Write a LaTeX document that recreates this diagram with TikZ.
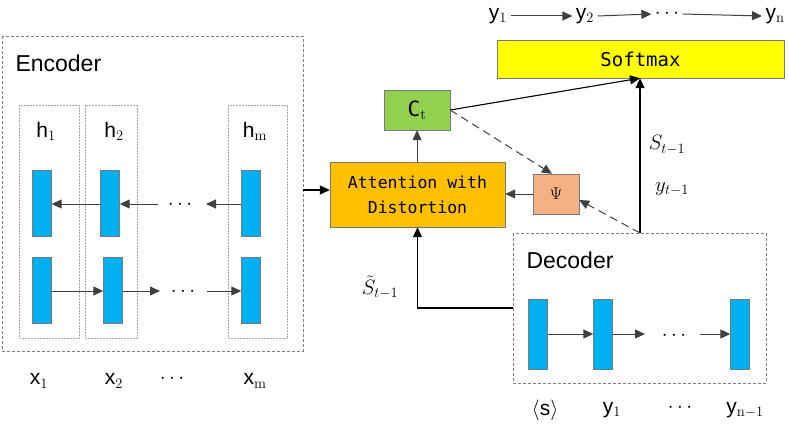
\documentclass[tikz,border=0pt]{standalone}
\usepackage{fontspec}
\setsansfont{Liberation Sans}
\setmonofont{DejaVu Sans Mono}
\usetikzlibrary{arrows.meta,positioning}
\definecolor{cellblue}{HTML}{00B0F0}
\definecolor{attnorange}{HTML}{FFC000}
\definecolor{ctgreen}{HTML}{92D050}
\definecolor{psipeach}{HTML}{F4B183}
\definecolor{smyellow}{HTML}{FFFF00}
\definecolor{arrgray}{HTML}{404040}

\begin{document}
\begin{tikzpicture}[
  x=1pt, y=-1pt,
  >={Triangle[length=10pt,width=9pt]},
  every node/.style={font=\sffamily},
  cell/.style={draw=arrgray!70, fill=cellblue, minimum width=19pt, minimum height=66pt, inner sep=0pt},
  blk/.style={draw=arrgray!70, inner sep=0pt},
  lbl/.style={font=\sffamily\fontsize{21}{21}\selectfont},
  mth/.style={font=\fontsize{20}{20}\selectfont},
  gr/.style={->, arrgray, line width=1pt},
  bk/.style={->, black, line width=1.1pt},
  dsh/.style={->, arrgray, line width=1pt, dash pattern=on 8pt off 5pt},
]
\useasboundingbox (0,0) rectangle (789,425);

% encoder
\draw[gray, densely dashed, line width=0.5pt] (2,36) rectangle (303,351);
\node[anchor=west, font=\sffamily\fontsize{23}{23}\selectfont] at (12,63) {Encoder};
\foreach \a/\b in {19/79, 85/137, 228/287}
  \draw[gray!70, densely dotted, line width=0.5pt] (\a,105) rectangle (\b,338);
\node[lbl] at (46,131) {h$_1$};
\node[lbl] at (114,131) {h$_2$};
\node[lbl] at (255,131) {h$_\mathrm{m}$};

\node[cell] (eu1) at (42,203) {};
\node[cell] (eu2) at (110,203) {};
\node[cell] (eu3) at (251,203) {};
\node[cell] (el1) at (42,290) {};
\node[cell] (el2) at (113,290) {};
\node[cell] (el3) at (251,290) {};

\coordinate (eud1) at (158,204);
\coordinate (eud2) at (206,204);
\coordinate (eld1) at (160,291);
\coordinate (eld2) at (207,291);
\node[mth] at (180,205) {$\cdots$};
\node[mth] at (183,292) {$\cdots$};
\draw[gr] (eu2.west |- eud1) -- (eu1.east |- eud1);
\draw[gr] (eud1) -- (eu2.east |- eud1);
\draw[gr] (eu3.west |- eud2) -- (eud2);
\draw[gr] (el1.east |- eld1) -- (el2.west |- eld1);
\draw[gr] (el2.east |- eld1) -- (eld1);
\draw[gr] (eld2) -- (el3.west |- eld2);

\node[lbl] at (39,381) {x$_1$};
\node[lbl] at (114,381) {x$_2$};
\node[mth] at (172,379) {$\cdots$};
\node[lbl] at (255,381) {x$_\mathrm{m}$};

% attention, context, distortion
\node[blk, fill=attnorange, minimum width=175pt, minimum height=65pt, align=center,
  font=\ttfamily\fontsize{16.5}{25}\selectfont] (attn) at (417.5,194.5) {Attention with\\Distortion};
\node[blk, fill=ctgreen, minimum width=66pt, minimum height=40pt,
  font=\ttfamily\fontsize{21}{21}\selectfont] (ct) at (417,110) {C$_\mathrm{t}$};
\node[blk, fill=psipeach, minimum width=46pt, minimum height=40pt,
  font=\fontsize{19}{19}\selectfont] (psi) at (556,194) {$\Psi$};
\node[blk, fill=smyellow, minimum width=287pt, minimum height=38pt,
  font=\ttfamily\fontsize{19}{19}\selectfont] (soft) at (640.5,59) {Softmax};

\coordinate (encout) at (303,190);
\draw[bk] (encout) -- (attn.west |- encout);
\draw[gr] (attn.north -| ct) -- (ct.south);
\draw[gr] (psi.west) -- (attn.east |- psi.west);
\coordinate (dtop) at (640,233);
\draw[bk] (ct.east) -- (soft.south -| dtop);
\draw[bk] (dtop) -- (soft.south -| dtop);
\draw[dsh] (ct.east) -- ([xshift=-4pt]psi.north);
\draw[dsh] (dtop) -- ([yshift=-6pt]psi.east);
\node[mth] at (667,145) {$S_{t-1}$};
\node[mth] at (672,189) {$y_{t-1}$};

% decoder
\draw[gray, densely dashed, line width=0.5pt] (513,233) rectangle (766,383);
\node[anchor=west, font=\sffamily\fontsize{23}{23}\selectfont] at (523,260) {Decoder};
\node[cell, minimum height=70pt] (d1) at (538,334) {};
\node[cell, minimum height=70pt] (d2) at (603,334) {};
\node[cell, minimum height=70pt] (d3) at (740,334) {};
\coordinate (dd1) at (645,334);
\coordinate (dd2) at (700,334);
\node[mth] at (674,336) {$\cdots$};
\draw[gr] (d1.east) -- (d2.west);
\draw[gr] (d2.east) -- (dd1);
\draw[gr] (dd2) -- (d3.west);
\coordinate (dleft) at (513,308);
\draw[bk] (dleft) -| (attn.south);
\node[mth] at (380,287) {$\tilde{S}_{t-1}$};

\node[lbl] at (545,410) {$\langle$s$\rangle$};
\node[lbl] at (612,410) {y$_1$};
\node[mth] at (680,408) {$\cdots$};
\node[lbl] at (745,410) {y$_{\mathrm{n}-1}$};

% output sequence
\node[lbl] (o1) at (498,16) {y$_1$};
\node[lbl] (o2) at (585,16) {y$_2$};
\node[mth] (od) at (667,14) {$\cdots$};
\node[lbl] (on) at (775,16) {y$_\mathrm{n}$};
\draw[gr] (o1.east) -- (o2.west);
\draw[gr] (o2.east) -- (od.west);
\draw[gr] (od.east) -- (on.west);
\end{tikzpicture}
\end{document}
